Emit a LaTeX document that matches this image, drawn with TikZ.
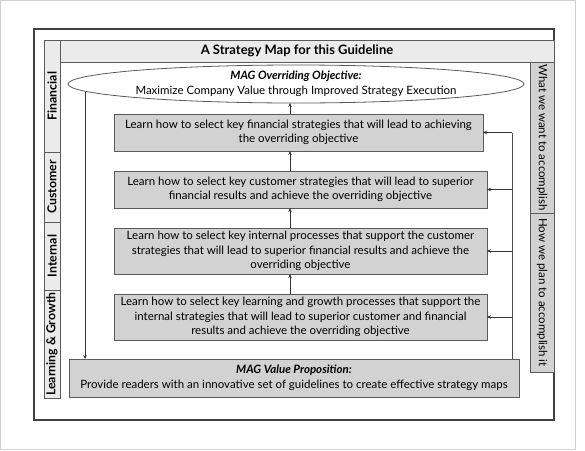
\documentclass[tikz,border=0pt]{standalone}
\usepackage{fontspec}
\setmainfont{Lato}
\usetikzlibrary{arrows.meta,shapes.geometric}
\definecolor{boxgray}{HTML}{D2D2D2}
\definecolor{lightcell}{HTML}{EBEBEB}
\definecolor{edgegray}{HTML}{5A5A5A}
\begin{document}
\begin{tikzpicture}[x=1pt,y=-1pt,
  every node/.style={inner sep=0pt,outer sep=0pt},
  txt/.style={font=\fontsize{11.5}{14.5}\selectfont,align=center,text=black},
  stepbox/.style={draw=edgegray,line width=0.8pt,fill=boxgray,txt},
  leftcell/.style={draw=edgegray,line width=0.6pt,fill=lightcell,rotate=90,minimum height=16,font=\fontsize{12.3}{13}\selectfont\bfseries},
  rightcell/.style={draw=edgegray,line width=0.6pt,fill=boxgray,rotate=-90,minimum height=24,font=\fontsize{11.5}{13}\selectfont},
  arr/.style={draw=black!80,line width=0.9pt,-{Stealth[length=4pt,width=3.5pt]}},
  ln/.style={draw=black!70,line width=0.9pt}]
\useasboundingbox (0,0) rectangle (585,450);
\node[draw=black!18,line width=0.8pt,minimum width=575,minimum height=449,anchor=north west] (page) at (0.5,0.5) {};
% outer frame
\node[draw=black!75,line width=1.3pt,minimum width=520,minimum height=391,anchor=north west] (frame) at (34,29) {};
% title bar
\node[draw=edgegray,line width=0.6pt,fill=lightcell,minimum width=494,minimum height=22,anchor=north west] (titlebar) at (60,40) {};
\node[font=\fontsize{13}{15}\selectfont\bfseries] (title) at (297,51) {A Strategy Map for this Guideline};
% left column
\node[leftcell,minimum width=112] (fin) at (52,96) {Financial};
\node[leftcell,minimum width=70] (cus) at (52,187) {Customer};
\node[leftcell,minimum width=68] (int) at (52,256) {Internal};
\node[leftcell,minimum width=108] (lng) at (52,344) {Learning \& Growth};
% right column
\node[rightcell,minimum width=151] (want) at (542,137.5) {What we want to accomplish};
\node[rightcell,minimum width=159] (plan) at (542,292.5) {How we plan to accomplish it};
% objective ellipse
\node[ellipse,draw=edgegray,line width=0.8pt,fill=white,minimum width=456,minimum height=38] (ell) at (296,84) {};
\node[txt] (elltext) at (296,84) {\textbf{\textit{MAG Overriding Objective:}}\\Maximize Company Value through Improved Strategy Execution};
% boxes
\node[stepbox,minimum width=369,minimum height=37] (b1) at (298.5,132.5) {Learn how to select key financial strategies that will lead to achieving\\the overriding objective};
\node[stepbox,minimum width=373,minimum height=37] (b2) at (300.5,189.5) {Learn how to select key customer strategies that will lead to superior\\financial results and achieve the overriding objective};
\node[stepbox,minimum width=373,minimum height=46] (b3) at (300.5,251) {Learn how to select key internal processes that support the customer\\strategies that will lead to superior financial results and achieve the\\overriding objective};
\node[stepbox,minimum width=373,minimum height=46] (b4) at (300.5,317) {Learn how to select key learning and growth processes that support the\\internal strategies that will lead to superior customer and financial\\results and achieve the overriding objective};
\node[stepbox,minimum width=450,minimum height=38] (bot) at (294,378) {\textbf{\textit{MAG Value Proposition:}}\\Provide readers with an innovative set of guidelines to create effective strategy maps};
% vertical arrows
\coordinate (ax) at (290,0);
\draw[arr] (ax |- b4.north) -- (ax |- b3.south);
\draw[arr] (ax |- b3.north) -- (ax |- b2.south);
\draw[arr] (ax |- b2.north) -- (ax |- b1.south);
\draw[arr] (ax |- b1.north) -- (ax |- ell.south);
% left line
\coordinate (lt) at (85,92);
\draw[arr] (lt) -- (lt |- bot.north);
% right feedback
\coordinate (rx) at (512,0);
\draw[ln] (rx |- bot.north) -- (rx |- b1.east);
\draw[arr] (rx |- b1.east) -- (b1.east);
\draw[arr] (rx |- b2.east) -- (b2.east);
\draw[arr] (rx |- b3.east) -- (b3.east);
\draw[arr] (rx |- b4.east) -- (b4.east);
\end{tikzpicture}
\end{document}
